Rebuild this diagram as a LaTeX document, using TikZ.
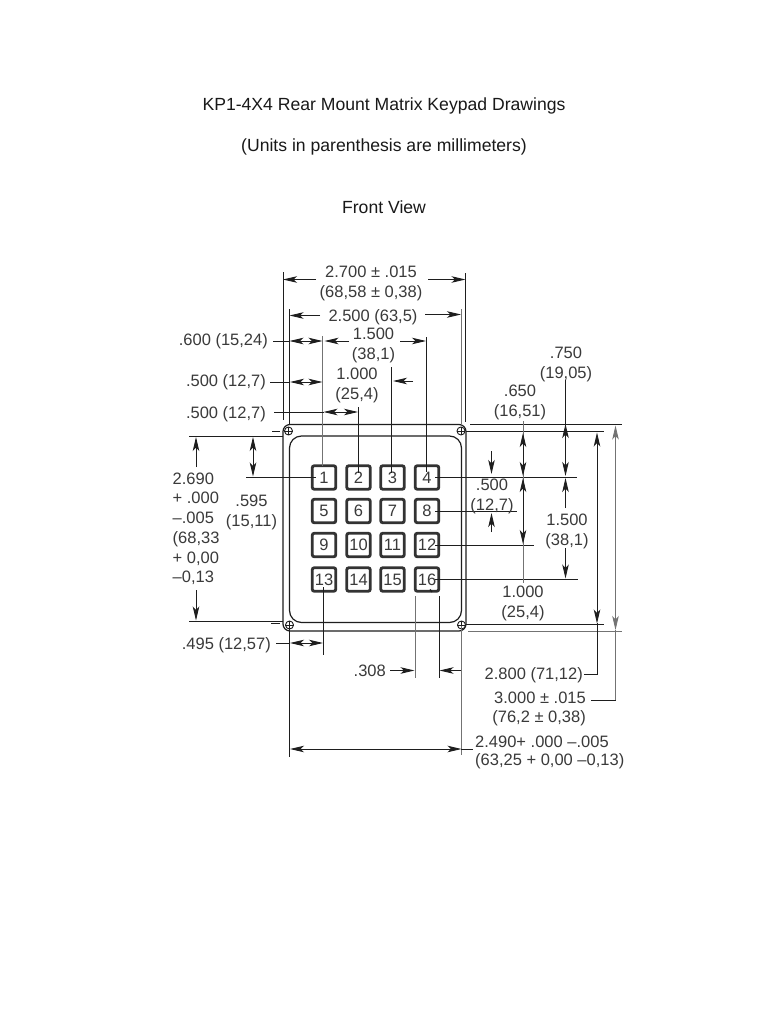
\documentclass[tikz,border=0pt]{standalone}
\usepackage{fontspec}
\setmainfont{Liberation Sans}
\usetikzlibrary{arrows.meta}
\definecolor{ink}{HTML}{1E1E1E}
\definecolor{txt}{HTML}{3A3A3A}
\tikzset{
  ln/.style={draw=ink,line width=0.9pt},
  thin gray/.style={draw=black!55,line width=0.8pt},
  ar/.style={ln,-{Stealth[length=14pt,width=6.5pt,inset=3.5pt]}},
  arb/.style={ln,{Stealth[length=14pt,width=6.5pt,inset=3.5pt]}-{Stealth[length=14pt,width=6.5pt,inset=3.5pt]}},
  lbl/.style={text=txt,inner sep=0pt,align=center,font=\fontsize{16.5}{20}\selectfont},
  head/.style={text=black!90,inner sep=0pt,font=\fontsize{17.6}{20}\selectfont},
  keybox/.style={draw=black!80,line width=2.8pt,rounded corners=2pt,minimum size=23.5pt,inner sep=0pt,text=txt,font=\fontsize{16.5}{18}\selectfont},
  hole/.style={draw=ink,line width=0.9pt,circle,minimum size=8pt,inner sep=0pt}
}
\begin{document}
\begin{tikzpicture}[x=1pt,y=-1pt]
\useasboundingbox[fill=white] (0,0) rectangle (768,1024);
% headings
\node[head] (t1) at (384,105.5) {KP1-4X4 Rear Mount Matrix Keypad Drawings};
\node[head] (t2) at (384,146.5) {(Units in parenthesis are millimeters)};
\node[head] (t3) at (384,207.5) {Front View};
% plate
\draw[ln,line width=1.2pt,rounded corners=7pt] (283,424.5) rectangle (466,631);
\draw[ln,line width=1.2pt,rounded corners=12pt] (289.5,436) rectangle (461.5,622.5);
% holes
\foreach \n/\x/\y in {a/288.5/431,b/461/431,c/289.5/625,d/461.5/625}{
  \node[hole,fill=white] (h\n) at (\x,\y) {};
  \draw[ln,line width=0.7pt] (h\n.west) -- (h\n.east) (h\n.north) -- (h\n.south);
}
% keys
\foreach \n/\x/\y in {1/324/477.5,2/358.5/477.5,3/392.5/477.5,4/427/477.5,
  5/324/511,6/358.5/511,7/392.5/511,8/427/511,
  9/324/545,10/358.5/545,11/392.5/545,12/427/545,
  13/324/579.5,14/358.5/579.5,15/392.5/579.5,16/427/579.5}{
  \node[keybox] (k\n) at (\x,\y) {\n};
}
\draw[ln,line width=1.4pt] (430,589.5) -- (432,592);
% top extension lines
\draw[ln] (283,272) -- (283,420);
\draw[ln] (465.5,273) -- (465.5,422);
\draw[ln] (289.5,309) -- (289.5,425);
\draw[thin gray] (461,309) -- (461,425);
\draw[thin gray] (322.5,336) -- (322.5,466);
\draw[ln] (358,407) -- (358,473);
\draw[ln] (391,367) -- (391,473);
\draw[ln] (426,337) -- (426,472);
% 2.700
\node[lbl] (d1) at (371,283) {2.700 ± .015\\(68,58 ± 0,38)};
\draw[ar] (316,279.5) -- (283,279.5);
\draw[ar] (428,279.5) -- (465.5,279.5);
% 2.500
\node[lbl] (d2) at (373,317) {2.500 (63,5)};
\draw[ar] (320,315.5) -- (289.5,315.5);
\draw[ar] (425,314.5) -- (461,314.5);
% .600 and 1.500
\node[lbl,anchor=east] (d3) at (268,341.5) {.600 (15,24)};
\draw[ln] (273,341) -- (290,341);
\draw[arb] (289.5,341) -- (322.5,341);
\node[lbl] (d4) at (373.5,345.5) {1.500\\(38,1)};
\draw[ar] (349,341) -- (324.5,341);
\draw[ar] (400,341) -- (426,341);
% .500 and 1.000
\node[lbl,anchor=east] (d5) at (266,382.5) {.500 (12,7)};
\draw[ln] (270,382) -- (290,382);
\draw[arb] (290,382) -- (322.5,382);
\node[lbl] (d6) at (357,385) {1.000\\(25,4)};
\draw[ar] (413,381) -- (393,381);
% second .500
\node[lbl,anchor=east] (d7) at (266,414) {.500 (12,7)};
\draw[ln] (274,412) -- (324,412);
\draw[arb] (323.5,412) -- (358,412);
% left datum lines
\draw[ln] (189,436) -- (283,436);
\draw[ln] (272,431.5) -- (280,431.5);
\draw[ln] (189,621) -- (283,621);
\draw[ln] (271,623) -- (280,623);
\draw[ar] (196,467) -- (196,437);
\draw[ar] (196,590) -- (196,620.5);
\node[lbl,align=left,anchor=north west,font=\fontsize{16.5}{19.7}\selectfont] (d8) at (172.5,472.5) {2.690\\+ .000\\–.005\\(68,33\\+ 0,00\\–0,13};
% .595
\draw[arb] (253,437) -- (253,476.5);
\draw[ln] (246,477) -- (316,477);
\node[lbl] (d9) at (251.5,512.5) {.595\\(15,11)};
% right datum lines
\draw[ln] (470,424) -- (622,424);
\draw[ln] (466,431.5) -- (604,431.5);
\draw[ln] (466,624) -- (604,624);
\draw[thin gray] (468,631) -- (622,631);
\draw[ln] (435,477) -- (577,477);
\draw[ln] (435,511) -- (517,511);
\draw[ln] (435,545) -- (534,545);
\draw[ln] (435,579) -- (578,579);
% .750 / 1.500
\node[lbl] (d10) at (566,364.5) {.750\\(19,05)};
\draw[ln] (565.5,380) -- (565.5,424);
\draw[arb] (565.5,424) -- (565.5,476);
\draw[ar] (565.5,508) -- (565.5,478);
\node[lbl] (d11) at (567,531) {1.500\\(38,1)};
\draw[ar] (565.5,548) -- (565.5,578.5);
% .650 / 1.000
\node[lbl] (d12) at (520,402.5) {.650\\(16,51)};
\draw[thin gray] (523,421) -- (523,583);
\draw[arb] (523,433) -- (523,476);
\draw[arb] (523,478) -- (523,544);
\node[lbl] (d13) at (523,603) {1.000\\(25,4)};
% .500 right
\draw[ar] (491.5,451) -- (491.5,474);
\node[lbl] (d14) at (492,496) {.500\\(12,7)};
\draw[ar] (491.5,532) -- (491.5,513);
% 2.800
\draw[arb] (597,432.5) -- (597,623.5);
\draw[ln] (597,623) -- (597,674) -- (584,674);
\node[lbl,anchor=east] (d15) at (583,675) {2.800 (71,12)};
% 3.000
\draw[thin gray,{Stealth[length=14pt,width=6.5pt,inset=3.5pt]}-{Stealth[length=14pt,width=6.5pt,inset=3.5pt]}] (615.5,425.5) -- (615.5,630);
\draw[thin gray] (615.5,630) -- (615.5,700.5);
\draw[ln] (615.5,700.5) -- (591,700.5);
\node[lbl,anchor=east] (d16) at (586,698) {3.000 ± .015};
\node[lbl,anchor=east] (d17) at (586,718) {(76,2 ± 0,38)};
% .495
\node[lbl,anchor=east] (d18) at (271,645.5) {.495 (12,57)};
\draw[ln] (276,643) -- (290,643);
\draw[arb] (290,643) -- (323,643);
\draw[ln] (323.5,587) -- (323.5,655);
% .308
\node[lbl,anchor=east] (d19) at (386,671) {.308};
\draw[ar] (390,670.5) -- (414.5,670.5);
\draw[ar] (461,670.5) -- (439.5,670.5);
\draw[thin gray] (415,596) -- (415,678);
\draw[ln] (439,596) -- (439,678);
% 2.490
\draw[ln] (289.5,626) -- (289.5,757);
\draw[thin gray] (461.5,626) -- (461.5,755);
\draw[arb] (290,749) -- (461.5,749);
\draw[ln] (461,749) -- (472.5,749);
\node[lbl,anchor=west] (d20) at (475,741.5) {2.490+ .000 –.005};
\node[lbl,anchor=west] (d21) at (475,761.5) {(63,25 + 0,00 –0,13)};
\end{tikzpicture}
\end{document}
